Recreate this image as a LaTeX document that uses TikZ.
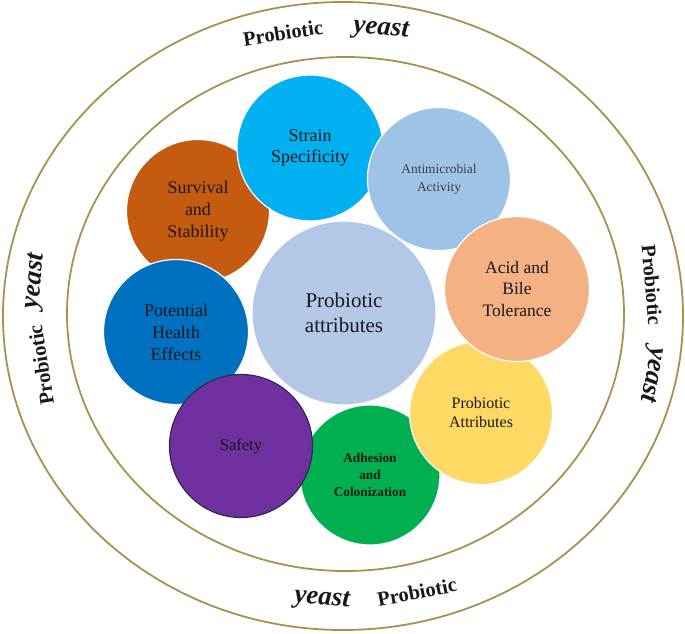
\documentclass[tikz,border=0pt]{standalone}
\usepackage{fontspec}
\setmainfont{Liberation Serif}
\usepackage{tikz}
\usepackage{xcolor}
\definecolor{ringGold}{HTML}{A8914F}
\definecolor{coreGrey}{HTML}{B4C7E7}
\definecolor{strainCyan}{HTML}{00B0F0}
\definecolor{microBlue}{HTML}{9DC3E6}
\definecolor{survRust}{HTML}{C55A11}
\definecolor{acidPeach}{HTML}{F4B183}
\definecolor{healthBlue}{HTML}{0070C0}
\definecolor{attrYellow}{HTML}{FFD966}
\definecolor{safePurple}{HTML}{7030A0}
\definecolor{safeEdge}{HTML}{2E2C4A}
\definecolor{adhGreen}{HTML}{00B050}

\begin{document}
\begin{tikzpicture}[x=1pt, y=-1pt,
  ring/.style={draw=ringGold, line width=1.8pt},
  bubble/.style={circle, draw=white, line width=1.2pt, align=center, inner sep=0pt, text=black!90, minimum size=143pt, font=\fontsize{18}{22}\selectfont},
  word/.style={inner sep=0pt, text=black!90, font=\fontsize{20.5}{20.5}\selectfont\bfseries},
  yword/.style={inner sep=0pt, text=black!90, font=\fontsize{27}{27}\selectfont\bfseries\itshape}
]
\useasboundingbox (0,0) rectangle (685,633);
% rings
\draw[ring] (343,316) ellipse [x radius=340, y radius=314];
\draw[ring] (345.5,314) ellipse [x radius=278.5, y radius=257];
% ring words
\node[word, rotate=9] (topP) at (283,33) {Probiotic};
\node[yword, rotate=-5] (topY) at (381,30) {yeast};
\node[word, rotate=99] (leftP) at (41,365) {Probiotic};
\node[yword, rotate=84] (leftY) at (36,281) {yeast};
\node[word, rotate=-85] (rightP) at (652,285) {Probiotic};
\node[yword, rotate=-101] (rightY) at (651,375) {yeast};
\node[yword, rotate=-4] (botY) at (322,600) {yeast};
\node[word, rotate=11] (botP) at (417,592) {Probiotic};
% bubbles
\node[bubble, fill=coreGrey, minimum size=184pt, font=\fontsize{21}{25}\selectfont] (core) at (344,313) {Probiotic\\attributes};
\node[bubble, fill=survRust] (surv) at (198,211) {Survival\\and\\Stability};
\node[bubble, fill=strainCyan, minimum size=146pt, font=\fontsize{18}{21}\selectfont] (strain) at (310,148) {Strain\\Specificity};
\node[bubble, fill=microBlue, font=\fontsize{13.4}{18}\selectfont, text=black!75] (micro) at (439,179) {Antimicrobial\\Activity};
\node[bubble, fill=adhGreen, minimum size=140pt, font=\fontsize{13.3}{17}\selectfont\bfseries] (adh) at (370,475) {Adhesion\\and\\Colonization};
\node[bubble, fill=attrYellow, font=\fontsize{16}{19}\selectfont] (attr) at (481,413) {Probiotic\\Attributes};
\node[bubble, fill=acidPeach, minimum size=145pt, font=\fontsize{17.5}{21.5}\selectfont] (acid) at (517,289) {Acid and\\Bile\\Tolerance};
\node[bubble, fill=healthBlue, minimum size=145pt] (health) at (176,332) {Potential\\Health\\Effects};
\node[bubble, fill=safePurple, draw=safeEdge, font=\fontsize{16.5}{18}\selectfont] (safe) at (241,446) {Safety};
\end{tikzpicture}
\end{document}
